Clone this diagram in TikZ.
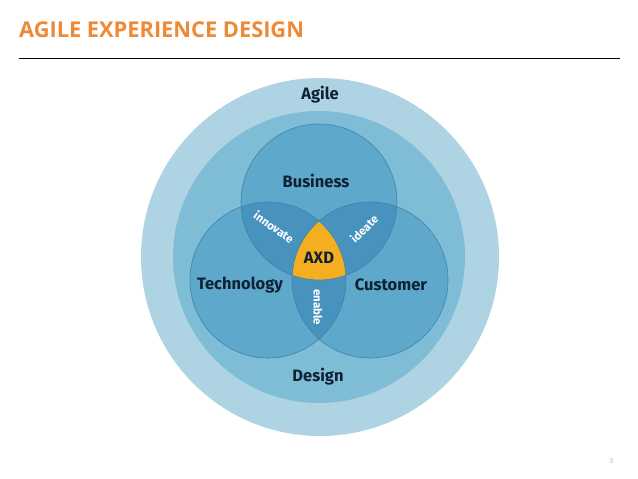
\documentclass[tikz,border=0pt]{standalone}
\usepackage{fontspec}
\setmainfont{Open Sans}
\newfontfamily\dinfont{Fira Sans}
\definecolor{titleor}{HTML}{EE8A37}
\definecolor{outerb}{HTML}{AED3E3}
\definecolor{midb}{HTML}{7FBCD5}
\definecolor{vennb}{HTML}{5DA8CB}
\definecolor{overb}{HTML}{4893BE}
\definecolor{edgeb}{HTML}{3A84AE}
\definecolor{axdor}{HTML}{F5AE1F}
\definecolor{navy}{HTML}{0F2233}
\definecolor{pgray}{HTML}{BBBBBB}
\begin{document}
\begin{tikzpicture}[x=1pt,y=-1pt,
  lbl/.style={font=\dinfont\bfseries\fontsize{16.5}{19}\selectfont, text=navy, inner sep=0pt},
  small/.style={font=\dinfont\bfseries\fontsize{11.5}{13}\selectfont, text=white, inner sep=0pt},
  vedge/.style={draw=edgeb, line width=0.6pt}]
\useasboundingbox (0,0) rectangle (638,479);
\fill[white] (0,0) rectangle (638,479);
% title
\node[anchor=base west, inner sep=0pt, text=titleor, font=\bfseries\fontsize{21.8}{26}\selectfont] (title) at (19,37.8) {AGILE EXPERIENCE DESIGN};
\coordinate (ruleL) at (19,58.3);
\coordinate (ruleR) at (620,58.3);
\draw[line width=1.2pt, black] (ruleL) -- (ruleR);
% circles
\coordinate (O) at (320,257);
\coordinate (B) at (319,202);
\coordinate (T) at (268,280);
\coordinate (C) at (370,280);
\fill[outerb] (O) circle[radius=179pt];
\fill[midb] (319,257) circle[radius=146pt];
\fill[vennb] (B) circle[radius=78pt];
\fill[vennb] (T) circle[radius=78pt];
\fill[vennb] (C) circle[radius=78pt];
\begin{scope}
  \clip (B) circle[radius=78pt];
  \fill[overb] (T) circle[radius=78pt];
  \fill[overb] (C) circle[radius=78pt];
\end{scope}
\begin{scope}
  \clip (T) circle[radius=78pt];
  \fill[overb] (C) circle[radius=78pt];
\end{scope}
\begin{scope}
  \clip (B) circle[radius=78pt];
  \clip (T) circle[radius=78pt];
  \fill[axdor] (C) circle[radius=78pt];
\end{scope}
\draw[vedge] (B) circle[radius=78pt];
\draw[vedge] (T) circle[radius=78pt];
\draw[vedge] (C) circle[radius=78pt];
% labels
\node[lbl] (agile) at (320,95) {Agile};
\node[lbl] (business) at (316,181) {Business};
\node[lbl] (tech) at (240,285) {Technology};
\node[lbl] (cust) at (391,285) {Customer};
\node[lbl] (design) at (318,377) {Design};
\node[lbl] (axd) at (319,258) {AXD};
\node[small, rotate=-35] (innovate) at (274,227) {innovate};
\node[small, rotate=45] (ideate) at (364,229) {ideate};
\node[small, rotate=-90] (enable) at (318,307) {enable};
\node[text=pgray, font=\fontsize{7}{8}\selectfont, inner sep=0pt] (pnum) at (611,461) {3};
\end{tikzpicture}
\end{document}
